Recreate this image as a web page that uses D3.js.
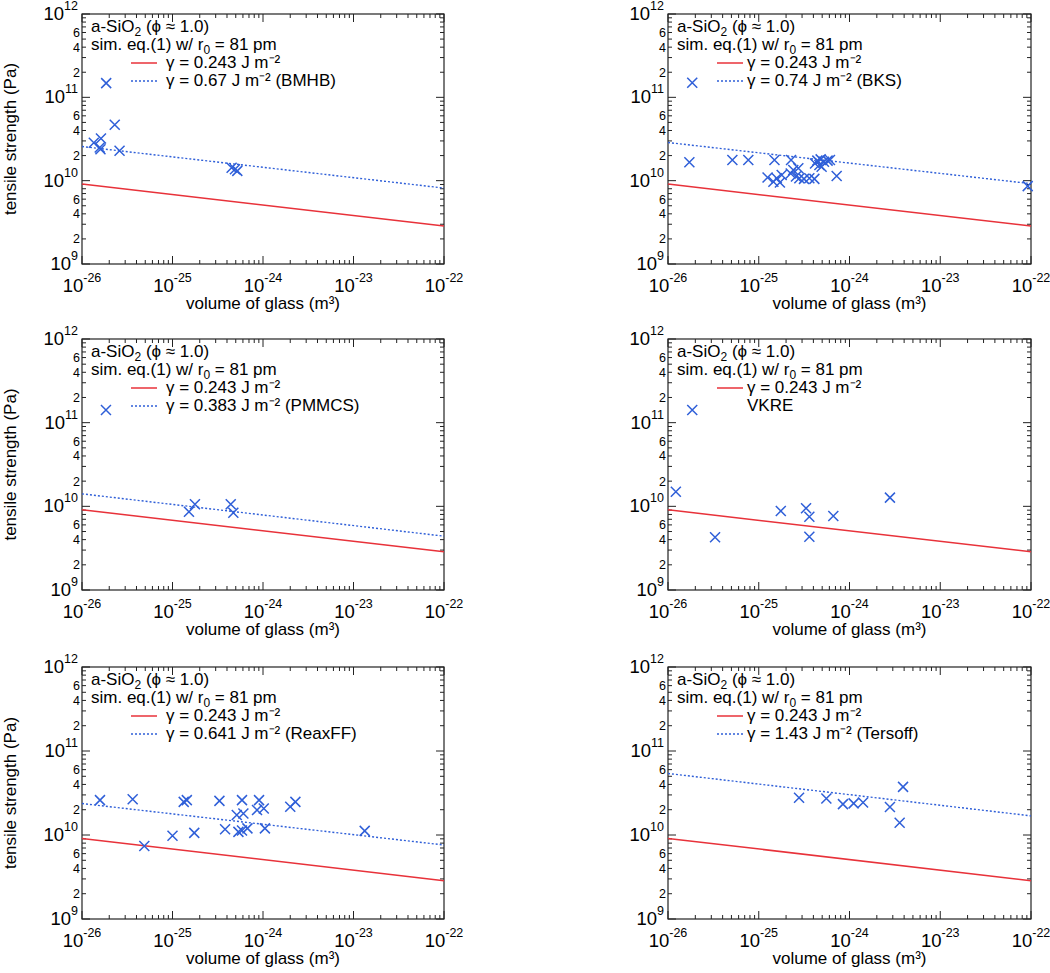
<!DOCTYPE html>
<html><head><meta charset="utf-8">
<script src="https://cdn.jsdelivr.net/npm/d3@7"></script>
<style>body{margin:0;background:#fff}svg{display:block;font-family:"Liberation Sans",Arial,Helvetica,sans-serif}</style>
</head><body><svg id="c" width="1050" height="973"></svg>
<script>
// ---- data ----
const xDomain = [1e-26, 1e-22];
const yDomain = [1e9, 1e12];
const xMajorTicks = [1e-26, 1e-25, 1e-24, 1e-23, 1e-22];
const xTickExps = ["-26", "-25", "-24", "-23", "-22"];
const yMajorTicks = [1e9, 1e10, 1e11, 1e12];
const yTickExps = ["9", "10", "11", "12"];
const yMinorLabels = [2, 4, 6];

const refLineVol = [1e-26, 1e-22];
const refLine0243 = [9.1e9, 2.86e9];

const modelNames = ["BMHB", "BKS", "PMMCS", "VKRE", "ReaxFF", "Tersoff"];
const modelGamma = ["0.67", "0.74", "0.383", null, "0.641", "1.43"];
const modelLines = [
  [2.57e10, 8.15e9],
  [2.87e10, 9.2e9],
  [1.41e10, 4.4e9],
  null,
  [2.37e10, 7.6e9],
  [5.4e10, 1.69e10]
];

const bmhbVol = [1.85e-26, 2.30e-26, 1.35e-26, 1.62e-26, 1.57e-26, 1.60e-26, 2.60e-26, 4.5e-25, 4.9e-25, 5.2e-25];
const bmhbStr = [1.48e11, 4.7e10, 2.85e10, 3.2e10, 2.5e10, 2.38e10, 2.29e10, 1.43e10, 1.37e10, 1.31e10];

const bksVol = [1.85e-26, 1.72e-26, 5.12e-26, 7.67e-26, 1.49e-25, 2.27e-25, 1.25e-25, 1.45e-25, 1.58e-25, 1.71e-25,
  1.79e-25, 2.25e-25, 2.40e-25, 2.57e-25, 2.73e-25, 2.80e-25, 3.15e-25, 3.61e-25, 4.10e-25, 4.17e-25,
  4.42e-25, 4.66e-25, 4.81e-25, 4.93e-25, 5.23e-25, 5.74e-25, 6.09e-25, 7.22e-25, 9.2e-23];
const bksStr = [1.50e11, 1.66e10, 1.77e10, 1.77e10, 1.77e10, 1.77e10, 1.09e10, 9.7e9, 1.07e10, 9.5e9,
  1.17e10, 1.22e10, 1.34e10, 1.12e10, 1.41e10, 1.07e10, 1.05e10, 1.07e10, 1.05e10, 1.61e10,
  1.74e10, 1.54e10, 1.80e10, 1.47e10, 1.69e10, 1.74e10, 1.77e10, 1.14e10, 8.6e9];

const pmmcsVol = [1.84e-26, 1.52e-25, 1.77e-25, 4.40e-25, 4.70e-25];
const pmmcsStr = [1.42e11, 8.6e9, 1.06e10, 1.06e10, 8.4e9];

const vkreVol = [1.85e-26, 1.22e-26, 3.30e-26, 1.75e-25, 3.32e-25, 3.61e-25, 3.61e-25, 6.63e-25, 2.79e-24];
const vkreStr = [1.42e11, 1.49e10, 4.27e9, 8.8e9, 9.5e9, 7.5e9, 4.34e9, 7.66e9, 1.27e10];

const reaxVol = [1.58e-26, 3.63e-26, 4.88e-26, 1.00e-25, 1.33e-25, 1.44e-25, 1.74e-25, 3.30e-25, 3.81e-25, 5.13e-25,
  5.35e-25, 5.86e-25, 5.86e-25, 6.07e-25, 6.73e-25, 8.59e-25, 9.04e-25, 1.02e-24, 1.05e-24, 2.00e-24, 2.28e-24, 1.33e-23];
const reaxStr = [2.60e10, 2.67e10, 7.4e9, 9.8e9, 2.48e10, 2.60e10, 1.06e10, 2.55e10, 1.17e10, 1.73e10,
  1.09e10, 1.13e10, 2.60e10, 1.80e10, 1.20e10, 1.98e10, 2.60e10, 2.07e10, 1.20e10, 2.17e10, 2.48e10, 1.12e10];

const tersoffVol = [2.78e-25, 5.56e-25, 8.47e-25, 1.11e-24, 1.41e-24, 2.79e-24, 3.89e-24, 3.57e-24];
const tersoffStr = [2.77e10, 2.72e10, 2.33e10, 2.38e10, 2.44e10, 2.15e10, 3.74e10, 1.40e10];

const panelVols = [bmhbVol, bksVol, pmmcsVol, vkreVol, reaxVol, tersoffVol];
const panelStrs = [bmhbStr, bksStr, pmmcsStr, vkreStr, reaxStr, tersoffStr];

// ---- layout ----
const cols = [[82, 444], [668, 1031]];
const rows = [[14, 264], [339, 590], [667, 919]];
const legendTextDx = [84, 79];
const RED = "#e8323a", BLUE = "#2f5fd8", INK = "#222";

const svg = d3.select("#c");
const defs = svg.append("defs");
defs.append("clipPath").attr("id", "rightClip").append("rect")
  .attr("x", 600).attr("y", 0).attr("width", 450).attr("height", 973);

function drawPanel(i) {
  const [x0, x1] = cols[i % 2];
  const [y0, y1] = rows[Math.floor(i / 2)];
  const x = d3.scaleLog().domain(xDomain).range([x0, x1]);
  const y = d3.scaleLog().domain(yDomain).range([y1, y0]);
  const g = svg.append("g");

  const xMinor = [], yMinor = [];
  for (let e = -26; e < -22; e++) for (let k = 2; k <= 9; k++) xMinor.push(k * Math.pow(10, e));
  for (let e = 9; e < 12; e++) for (let k = 2; k <= 9; k++) yMinor.push(k * Math.pow(10, e));

  const tk = g.append("g").attr("stroke", INK).attr("stroke-width", 1);
  xMinor.forEach(v => {
    tk.append("line").attr("x1", x(v)).attr("x2", x(v)).attr("y1", y1).attr("y2", y1 - 4);
    tk.append("line").attr("x1", x(v)).attr("x2", x(v)).attr("y1", y0).attr("y2", y0 + 4);
  });
  xMajorTicks.forEach(v => {
    tk.append("line").attr("x1", x(v)).attr("x2", x(v)).attr("y1", y1).attr("y2", y1 - 8);
    tk.append("line").attr("x1", x(v)).attr("x2", x(v)).attr("y1", y0).attr("y2", y0 + 8);
  });
  yMinor.forEach(v => {
    tk.append("line").attr("y1", y(v)).attr("y2", y(v)).attr("x1", x0).attr("x2", x0 + 4);
    tk.append("line").attr("y1", y(v)).attr("y2", y(v)).attr("x1", x1).attr("x2", x1 - 4);
  });
  yMajorTicks.forEach(v => {
    tk.append("line").attr("y1", y(v)).attr("y2", y(v)).attr("x1", x0).attr("x2", x0 + 8);
    tk.append("line").attr("y1", y(v)).attr("y2", y(v)).attr("x1", x1).attr("x2", x1 - 8);
  });

  g.append("rect").attr("x", x0).attr("y", y0).attr("width", x1 - x0).attr("height", y1 - y0)
    .attr("fill", "none").attr("stroke", INK).attr("stroke-width", 1.2);

  xMajorTicks.forEach((v, j) => {
    const t = g.append("text").attr("x", x(v)).attr("y", y1 + 28).attr("text-anchor", "middle")
      .attr("font-size", 18.5).attr("fill", "#000");
    t.append("tspan").text("10");
    t.append("tspan").attr("font-size", 12.5).attr("dy", -10).text(xTickExps[j]);
  });
  yMajorTicks.forEach((v, j) => {
    const t = g.append("text").attr("x", x0 - 4).attr("y", y(v) + 6).attr("text-anchor", "end")
      .attr("font-size", 18.5).attr("fill", "#000");
    t.append("tspan").text("10");
    t.append("tspan").attr("font-size", 12.5).attr("dy", -10).text(yTickExps[j]);
  });
  for (let e = 9; e < 12; e++) yMinorLabels.forEach(k => {
    g.append("text").attr("x", x0 - 2).attr("y", y(k * Math.pow(10, e)) + 4.5).attr("text-anchor", "end")
      .attr("font-size", 12.5).attr("fill", "#000").text(k);
  });

  g.append("text").attr("x", (x0 + x1) / 2).attr("y", y1 + 45).attr("text-anchor", "middle")
    .attr("font-size", 17).attr("fill", "#000").text("volume of glass (m³)");
  const yt = g.append("text").attr("transform", `translate(${x0 - 66},${(y0 + y1) / 2}) rotate(-90)`)
    .attr("text-anchor", "middle").attr("font-size", 17).attr("fill", "#000").text("tensile strength (Pa)");
  if (i % 2 === 1) yt.attr("clip-path", "url(#rightClip)");

  const line = d3.line().x(d => x(d[0])).y(d => y(d[1]));
  g.append("path").datum(refLineVol.map((v, k) => [v, refLine0243[k]])).attr("d", line)
    .attr("fill", "none").attr("stroke", RED).attr("stroke-width", 1.5);
  if (modelLines[i]) {
    g.append("path").datum(refLineVol.map((v, k) => [v, modelLines[i][k]])).attr("d", line)
      .attr("fill", "none").attr("stroke", BLUE).attr("stroke-width", 1.4).attr("stroke-dasharray", "2,2");
  }

  const pts = panelVols[i].map((v, k) => [v, panelStrs[i][k]]);
  const s = 5;
  g.append("g").selectAll("path").data(pts).join("path")
    .attr("d", d => { const px = x(d[0]), py = y(d[1]);
      return `M${px - s},${py - s}L${px + s},${py + s}M${px - s},${py + s}L${px + s},${py - s}`; })
    .attr("stroke", BLUE).attr("stroke-width", 1.5).attr("fill", "none");

  const tdx = legendTextDx[i % 2];
  const lg = g.append("g").attr("font-size", 17).attr("fill", "#000");
  const t1 = lg.append("text").attr("x", x0 + 9).attr("y", y0 + 18);
  t1.append("tspan").text("a-SiO");
  t1.append("tspan").attr("font-size", 12).attr("dy", 4).text("2");
  t1.append("tspan").attr("dy", -4).text(" (ϕ ≈ 1.0)");
  const t2 = lg.append("text").attr("x", x0 + 9).attr("y", y0 + 36);
  t2.append("tspan").text("sim. eq.(1) w/ r");
  t2.append("tspan").attr("font-size", 12).attr("dy", 4).text("0");
  t2.append("tspan").attr("dy", -4).text(" = 81 pm");
  lg.append("line").attr("x1", x0 + 49).attr("x2", x0 + 75).attr("y1", y0 + 49).attr("y2", y0 + 49)
    .attr("stroke", RED).attr("stroke-width", 1.5);
  lg.append("text").attr("x", x0 + tdx).attr("y", y0 + 54).text("γ = 0.243 J m⁻²");
  if (modelLines[i]) {
    lg.append("line").attr("x1", x0 + 49).attr("x2", x0 + 75).attr("y1", y0 + 67).attr("y2", y0 + 67)
      .attr("stroke", BLUE).attr("stroke-width", 1.4).attr("stroke-dasharray", "2,2");
    lg.append("text").attr("x", x0 + tdx).attr("y", y0 + 72).text(`γ = ${modelGamma[i]} J m⁻² (${modelNames[i]})`);
  } else {
    lg.append("text").attr("x", x0 + tdx).attr("y", y0 + 72).text(modelNames[i]);
  }
}
for (let i = 0; i < 6; i++) drawPanel(i);
</script></body></html>
